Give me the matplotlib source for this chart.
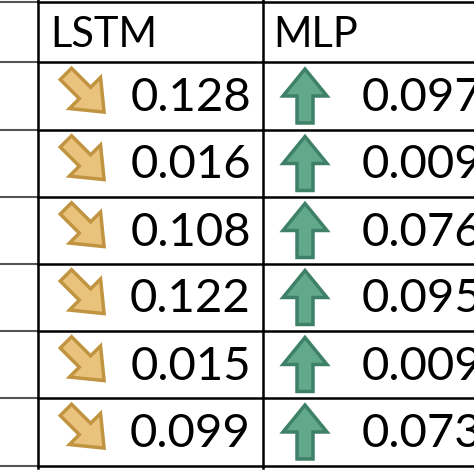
import numpy as np
import matplotlib.pyplot as plt
from matplotlib.patches import Polygon

headers = ["LSTM", "MLP"]
lstm_vals = ["0.128", "0.016", "0.108", "0.122", "0.015", "0.099"]
mlp_vals = ["0.097", "0.009", "0.076", "0.095", "0.009", "0.073"]

W = 474
row_lines = [2, 62, 130, 197, 264, 331, 398, 466]
col_lines = [38, 263]

fig = plt.figure(figsize=(4.74, 4.74), dpi=100)
ax = fig.add_axes([0, 0, 1, 1])
ax.set_xlim(0, W)
ax.set_ylim(W, 0)
ax.axis("off")

for y in row_lines:
    ax.plot([0, 38], [y, y], color="#555555", lw=1.5)
    ax.plot([38, W], [y, y], color="black", lw=1.8)
for x in col_lines:
    ax.plot([x, x], [0, 468], color="black", lw=1.8)

font = "Lato"
ax.text(50, 35, headers[0], fontsize=30, family=font, va="center", ha="left")
ax.text(273, 35, headers[1], fontsize=30, family=font, va="center", ha="left")

# arrow shape pointing up, centered at origin
arrow = np.array([[-8, 27], [8, 27], [8, 0], [22, 0], [0, -27], [-22, 0], [-8, 0]], float)

def draw_arrow(cx, cy, angle, face, edge):
    a = np.deg2rad(angle)
    R = np.array([[np.cos(a), -np.sin(a)], [np.sin(a), np.cos(a)]])
    pts = arrow @ R.T + [cx, cy]
    ax.add_patch(Polygon(pts, closed=True, facecolor=face, edgecolor=edge, lw=2.5))

for i, (lv, mv) in enumerate(zip(lstm_vals, mlp_vals)):
    cy = (row_lines[i + 1] + row_lines[i + 2]) / 2
    draw_arrow(85, cy - 3, 135, "#E9C37C", "#C09440")
    draw_arrow(305, cy, 0, "#62A98C", "#3F8068")
    ax.text(251, cy + 2, lv, fontsize=34, family=font, va="center", ha="right")
    ax.text(362, cy + 2, mv, fontsize=34, family=font, va="center", ha="left")

fig.savefig("out.png", dpi=100)
